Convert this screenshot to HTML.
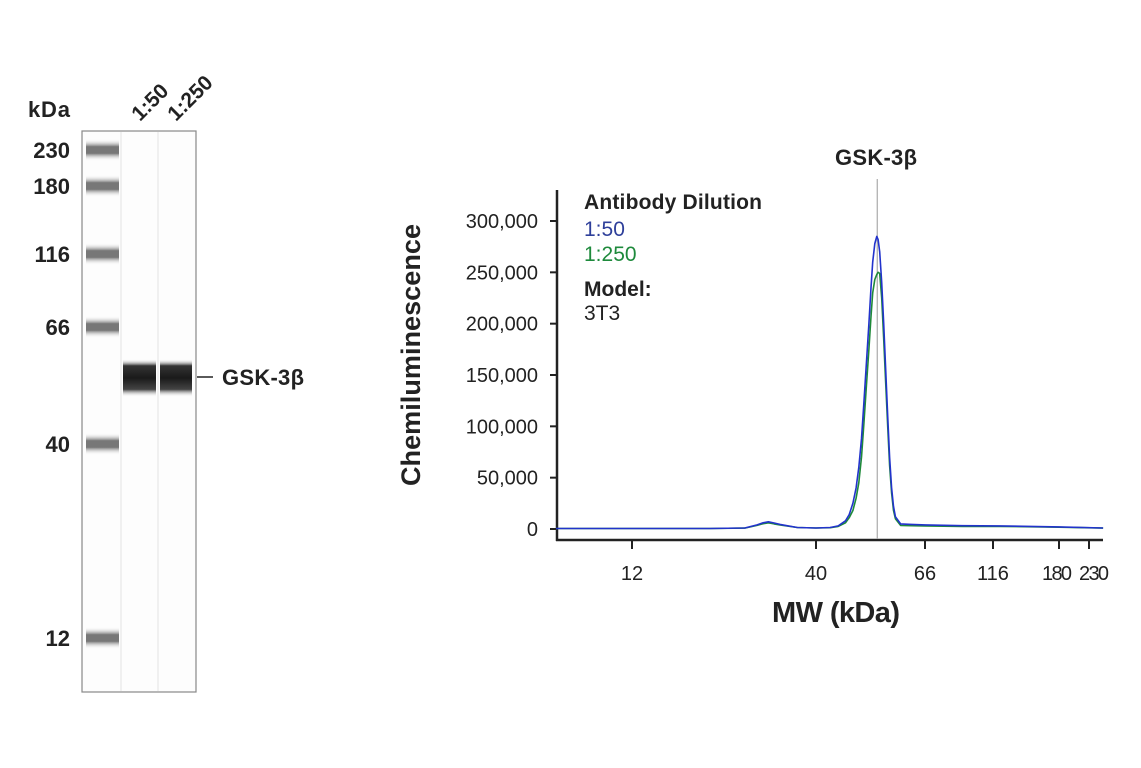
<!DOCTYPE html>
<html><head><meta charset="utf-8"><style>
html,body{margin:0;padding:0;background:#fff}
svg{display:block;font-family:"Liberation Sans",sans-serif}
</style></head><body>
<svg id="s" width="1141" height="768" viewBox="0 0 1141 768">
<defs>
<linearGradient id="bandG" x1="0" y1="0" x2="0" y2="1">
<stop offset="0" stop-color="#fff" stop-opacity="0"/><stop offset="0.35" stop-color="#777"/><stop offset="0.65" stop-color="#777"/><stop offset="1" stop-color="#fff" stop-opacity="0"/></linearGradient>
<linearGradient id="bandS" x1="0" y1="0" x2="0" y2="1">
<stop offset="0" stop-color="#fff" stop-opacity="0"/><stop offset="0.18" stop-color="#333"/><stop offset="0.5" stop-color="#1a1a1a"/><stop offset="0.8" stop-color="#444"/><stop offset="1" stop-color="#fff" stop-opacity="0"/></linearGradient>
</defs>
<g id="blot">
<text x="28" y="117" font-size="22" font-weight="bold" fill="#222" textLength="42">kDa</text>
<rect x="82" y="131" width="114" height="561" fill="#fdfdfd" stroke="#888" stroke-width="1.2"/>
<line x1="121" y1="132" x2="121" y2="691" stroke="#f0f0f0" stroke-width="2"/>
<line x1="158" y1="132" x2="158" y2="691" stroke="#f0f0f0" stroke-width="2"/>
<text transform="translate(140,122) rotate(-45)" font-size="21" font-weight="bold" fill="#222">1:50</text>
<text transform="translate(176,122) rotate(-45)" font-size="21" font-weight="bold" fill="#222">1:250</text>
<rect x="123" y="359" width="33" height="38" fill="url(#bandS)"/>
<rect x="160" y="359" width="32" height="38" fill="url(#bandS)"/>
<line x1="197" y1="377" x2="213" y2="377" stroke="#222" stroke-width="1.5"/>
<text x="222" y="385" font-size="22" font-weight="bold" fill="#222" textLength="82">GSK-3β</text>
</g>
<g id="chart"></g>
</svg>
<script>
const ladderKda=[230,180,116,66,40,12];
const ladderY=[150,186,254,327,444,638];
const ladderLabels=["230","180","116","66","40","12"];
const mwTicks=[12,40,66,116,180,230];
const mwTickPx=[632,816,925,993,1059,1089];
const yTicks=[0,50000,100000,150000,200000,250000,300000];
const yTickLabels=["0","50,000","100,000","150,000","200,000","250,000","300,000"];
const kda=[7.3,20,25.1,27.2,28.3,29.3,30.4,31.6,35.4,40,42.7,44.3,45.8,46.6,47.4,48.1,48.7,49.3,49.8,50.4,51.0,51.5,51.9,52.4,52.9,53.2,53.6,54.1,54.6,55.1,55.6,56.1,56.6,57.1,57.6,59.0,62,66,90,121.6,180,258];
const dil50=[500,500,1000,4000,6000,7000,5800,4500,1500,1000,1500,3000,8000,14000,25000,40000,60000,88000,120000,160000,200000,235000,260000,278000,285000,282000,270000,240000,200000,155000,110000,70000,40000,22000,12000,5000,4500,4000,3200,3000,2000,1000];
const dil250=[500,500,900,3500,5200,6000,5000,4000,1500,1000,1300,2500,6000,11000,18000,30000,45000,70000,100000,138000,175000,207000,230000,243000,248000,250000,249000,225000,185000,142000,100000,62000,35000,18000,10000,3500,3200,3000,2500,2500,1800,900];
const NS="http://www.w3.org/2000/svg";
function mk(tag,attrs,parent,txt){const e=document.createElementNS(NS,tag);for(const k in attrs)e.setAttribute(k,attrs[k]);if(txt!==undefined)e.textContent=txt;parent.appendChild(e);return e;}
const blot=document.getElementById('blot');
ladderKda.forEach((k,i)=>{
  const b=mk('rect',{x:86,y:ladderY[i]-11,width:33,height:22,fill:'url(#bandG)'},blot);
  
  
  const t=mk('text',{x:70,y:ladderY[i]+8,'text-anchor':'end','font-size':22,'font-weight':'bold',fill:'#222'},blot,ladderLabels[i]);
  
  
});
const g=document.getElementById('chart');
const X0=557,X1=1103,Y0=529,PXU=(529-221)/300000;
function xs(k){
  const L=Math.log(k);const lt=mwTicks.map(Math.log);
  let i=0; if(L<=lt[0]) i=0; else if(L>=lt[lt.length-1]) i=lt.length-2; else {while(L>lt[i+1])i++;}
  return mwTickPx[i]+(L-lt[i])/(lt[i+1]-lt[i])*(mwTickPx[i+1]-mwTickPx[i]);
}
function ys(v){return Y0-v*PXU;}
let a=mk('line',{x1:X0,y1:190,x2:X0,y2:541,stroke:'#222','stroke-width':2.5},g);

a=mk('line',{x1:X0-1,y1:540,x2:X1,y2:540,stroke:'#222','stroke-width':2.5},g);

yTicks.forEach((v,i)=>{
  const y=ys(v);
  const l=mk('line',{x1:X0-7,y1:y,x2:X0,y2:y,stroke:'#222','stroke-width':2},g);
  
  const t=mk('text',{x:538,y:y+7,'text-anchor':'end','font-size':20,fill:'#222'},g,yTickLabels[i]);
  
});
mwTicks.forEach((k,i)=>{
  const x=xs(k);
  const l=mk('line',{x1:x,y1:540,x2:x,y2:549,stroke:'#222','stroke-width':2},g);
  
  let tx=x;
  if(k===180){tx=x-2;} if(k===230){tx=x+5;}
  const o={x:tx,y:580,'text-anchor':'middle','font-size':20,fill:'#222'};
  if(k>=180)o.textLength=30;
  const t=mk('text',o,g,String(k));
  
});
let t=mk('text',{transform:'translate(420,355) rotate(-90)','text-anchor':'middle','font-size':27,'font-weight':'bold',fill:'#222',textLength:262},g,'Chemiluminescence');

t=mk('text',{x:836,y:622,'text-anchor':'middle','font-size':29,'font-weight':'bold',fill:'#222',textLength:128},g,'MW (kDa)');

const px=xs(53);
let m=mk('line',{x1:px,y1:179,x2:px,y2:539,stroke:'#aaa','stroke-width':1.2},g);

t=mk('text',{x:876,y:165,'text-anchor':'middle','font-size':22,'font-weight':'bold',fill:'#222',textLength:82},g,'GSK-3β');

function path(vals){return kda.map((k,i)=>(i?'L':'M')+xs(k).toFixed(1)+','+ys(vals[i]).toFixed(1)).join(' ');}
let p=mk('path',{d:path(dil250),fill:'none',stroke:'#1f8a3a','stroke-width':1.6,'stroke-linejoin':'round'},g);

p=mk('path',{d:path(dil50),fill:'none',stroke:'#2233cc','stroke-width':1.6,'stroke-linejoin':'round'},g);

const leg=[["Antibody Dilution",209,'bold','#222',178],["1:50",236,'normal','#2e3f9a',null],["1:250",261,'normal','#1e8a3c',null],["Model:",296,'bold','#222',null],["3T3",320,'normal','#222',null]];
leg.forEach(r=>{
  const o={x:584,y:r[1],'font-size':21,'font-weight':r[2],fill:r[3]};
  if(r[4])o.textLength=r[4];
  const e=mk('text',o,g,r[0]);
  
  
});
</script>
</body></html>
